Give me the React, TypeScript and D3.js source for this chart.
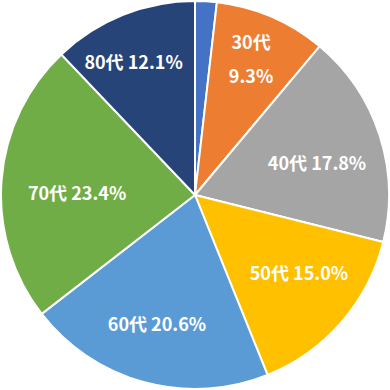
import React from "react";
import * as d3 from "d3";

const categories = ["20代", "30代", "40代", "50代", "60代", "70代", "80代"];
const values = [1.8, 9.3, 17.8, 15.0, 20.6, 23.4, 12.1];
const colors = ["#4472C4", "#ED7D31", "#A5A5A5", "#FFC000", "#5B9BD5", "#70AD47", "#264478"];
// label layout: radial fraction, angle offset (deg), whether shown, two-line
const labelRadius = [0, 0.754, 0.649, 0.673, 0.698, 0.608, 0.75];
const labelAngleOffset = [0, -0.7, 3.7, -3.8, 1.2, -3.9, -3.2];
const labelShown = [false, true, true, true, true, true, true];
const labelTwoLine = [false, true, false, false, false, false, false];

export default function App() {
  const W = 390, H = 390;
  const cx = 195, cy = 195, R = 194;
  const pie = d3.pie<number>().value((d) => d).sort(null);
  const arcs = pie(values);
  const arc = d3.arc<d3.PieArcDatum<number>>().innerRadius(0).outerRadius(R);
  return (
    <svg width={W} height={H} style={{ position: "absolute", left: 0, top: 0, background: "#fff" }}>
      <g transform={`translate(${cx},${cy})`}>
        {arcs.map((a, i) => (
          <path key={i} d={arc(a) || ""} fill={colors[i]} stroke="#fff" strokeWidth={2} />
        ))}
        {arcs.map((a, i) => {
          if (!labelShown[i]) return null;
          const mid = (a.startAngle + a.endAngle) / 2 + (labelAngleOffset[i] * Math.PI) / 180;
          const r = R * labelRadius[i];
          const x = Math.sin(mid) * r;
          const y = -Math.cos(mid) * r;
          const pct = values[i].toFixed(1) + "%";
          const style = { fontFamily: "'Noto Sans CJK JP', 'Noto Sans', sans-serif", fontSize: 18, fontWeight: 600, fill: "#fff" } as const;
          if (labelTwoLine[i]) {
            return (
              <text key={"l" + i} x={x} y={y} textAnchor="middle" style={style}>
                <tspan x={x} dy="-0.6em">{categories[i]}</tspan>
                <tspan x={x} dy="1.9em">{pct}</tspan>
              </text>
            );
          }
          return (
            <text key={"l" + i} x={x} y={y} dy="0.35em" textAnchor="middle" style={style}>
              {categories[i] + " " + pct}
            </text>
          );
        })}
      </g>
    </svg>
  );
}
